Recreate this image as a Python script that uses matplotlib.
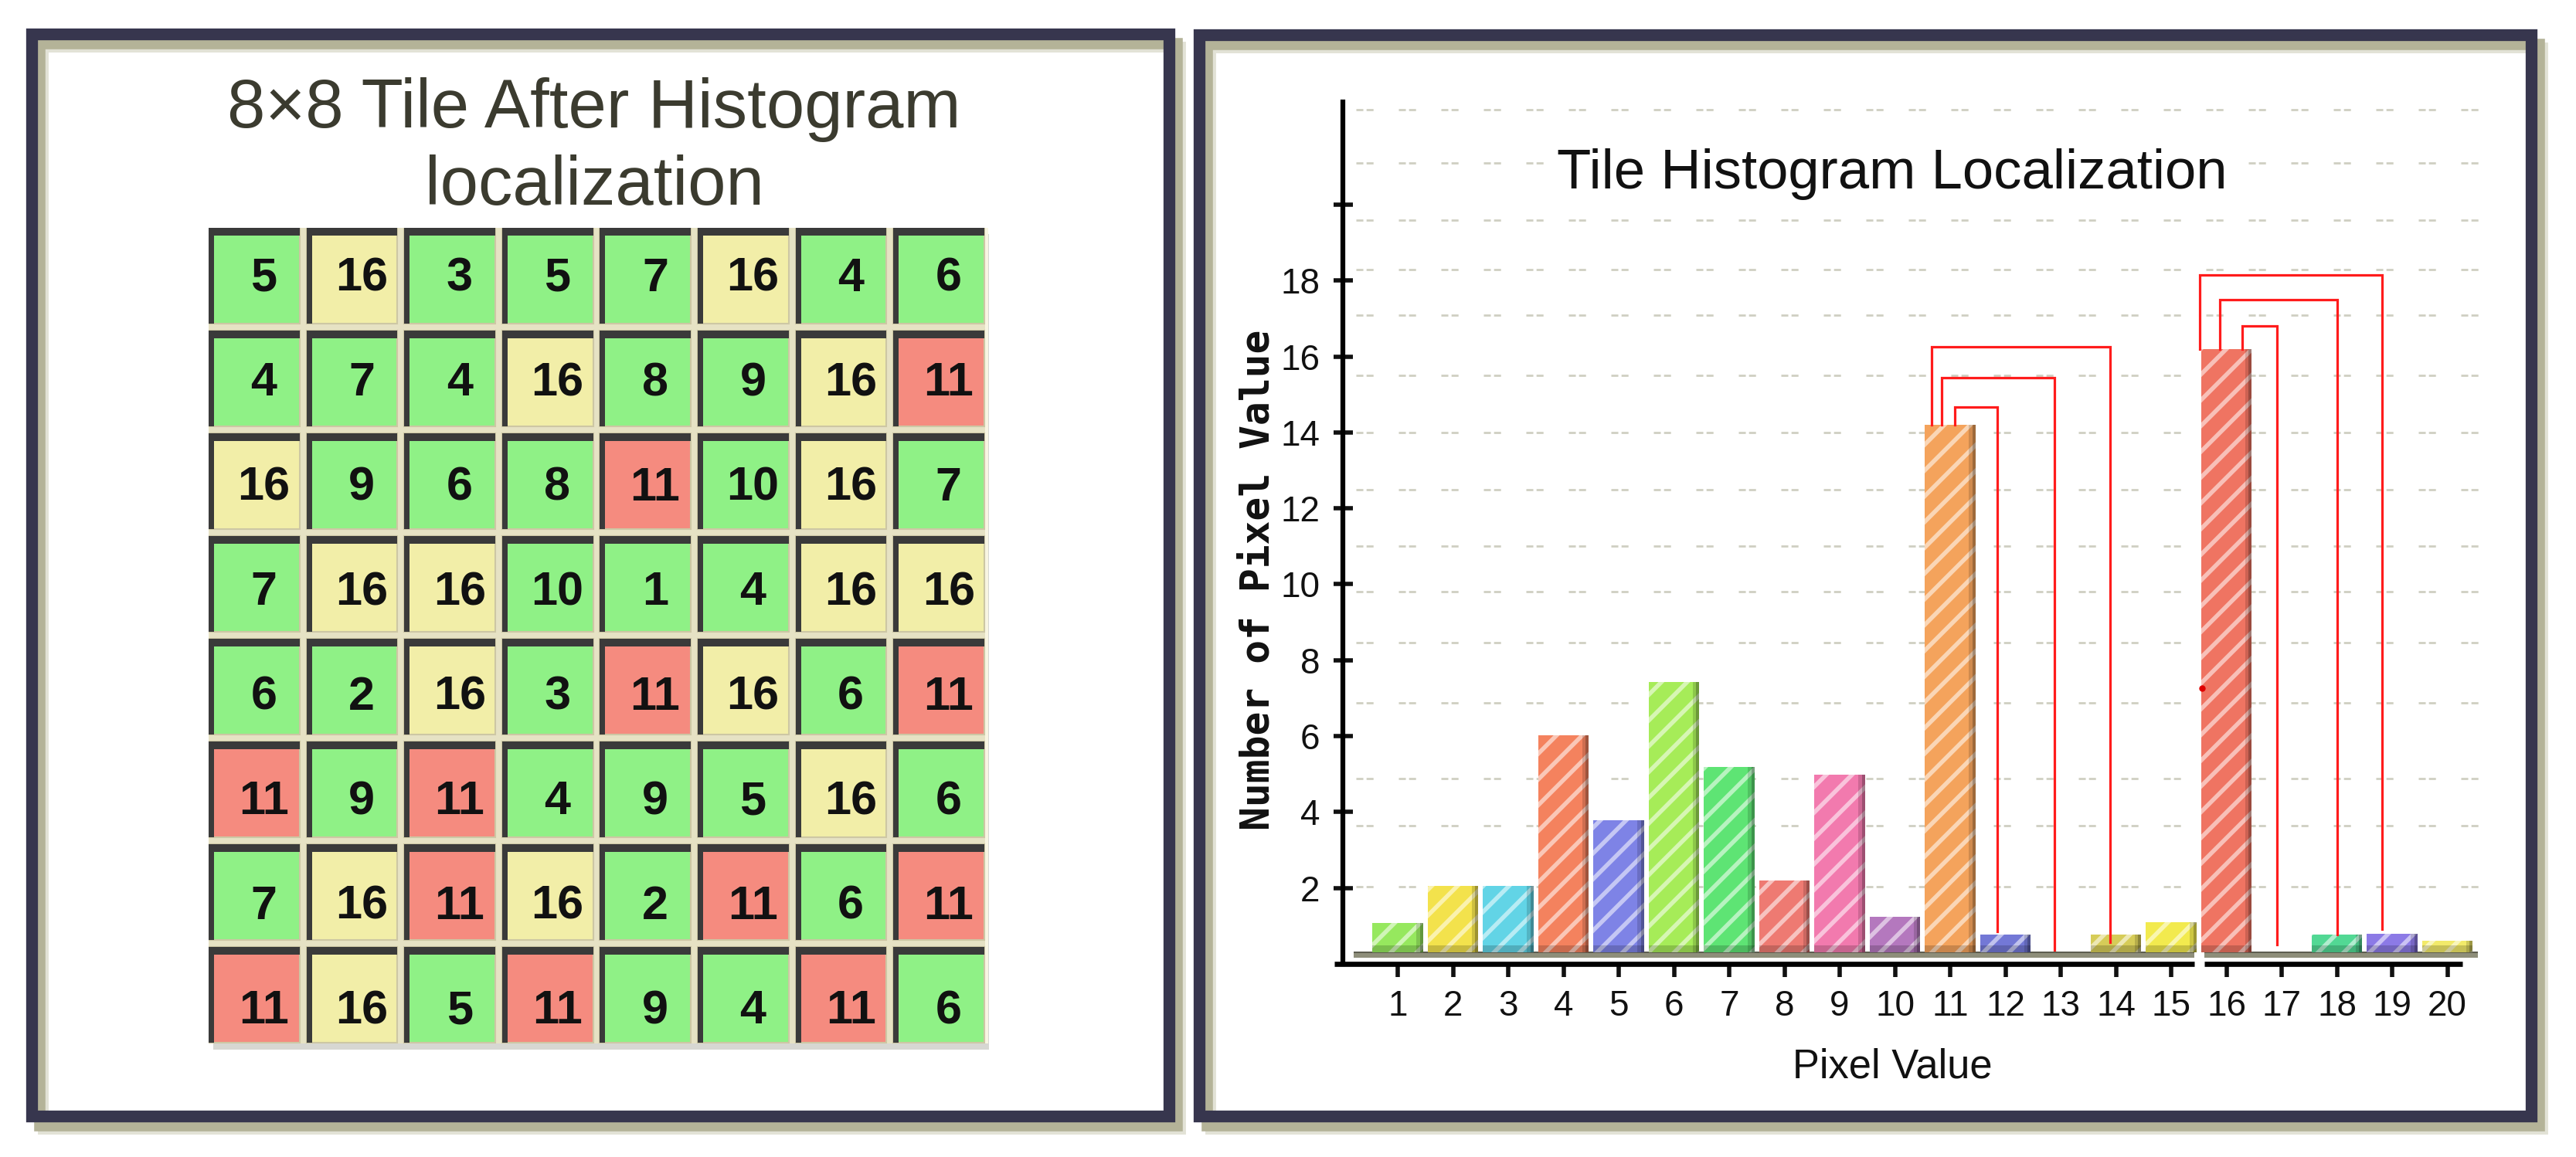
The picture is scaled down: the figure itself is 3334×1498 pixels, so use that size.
import matplotlib
matplotlib.use("Agg")
import matplotlib.pyplot as plt
import matplotlib.colors as mcolors
from matplotlib import font_manager as fm
from matplotlib.patches import Rectangle
import numpy as np

# 8x8 tile (left panel)
tile = [
    [5, 16, 3, 5, 7, 16, 4, 6],
    [4, 7, 4, 16, 8, 9, 16, 11],
    [16, 9, 6, 8, 11, 10, 16, 7],
    [7, 16, 16, 10, 1, 4, 16, 16],
    [6, 2, 16, 3, 11, 16, 6, 11],
    [11, 9, 11, 4, 9, 5, 16, 6],
    [7, 16, 11, 16, 2, 11, 6, 11],
    [11, 16, 5, 11, 9, 4, 11, 6],
]
cell_colors = {16: "#f2eea8", 11: "#f58b7f"}
cell_default = "#8ff186"

# histogram (right panel), heights
pixel_values = list(range(1, 21))
counts = [1.08, 2.06, 2.06, 6.03, 3.79, 7.42, 5.18, 2.2, 4.98, 1.25,
          14.2, 0.77, 0.12, 0.77, 1.09, 16.2, 0.1, 0.77, 0.8, 0.62]
bar_colors = ["#96e85e", "#f3e24c", "#62d4e6", "#f4825e", "#7e83e6",
              "#a6ec58", "#5ee474", "#ee7a72", "#f27aae", "#b478be",
              "#f4a35c", "#7378d6", "#c8c8b0", "#d6cc58", "#f2ea4e",
              "#ef7462", "#c8c8b8", "#52d894", "#8c7ae6", "#f2ea6a"]
y_ticks = [2, 4, 6, 8, 10, 12, 14, 16, 18, 20]
y_ticklabels = ["2", "4", "6", "8", "10", "12", "14", "16", "18", ""]

# red brackets: source bar -> target bar
link_from = [11, 11, 11, 16, 16, 16]
link_to = [12, 13, 14, 17, 18, 19]
link_top = [14.67, 15.45, 16.25, 16.8, 17.5, 18.15]
link_end = [0.85, 0.37, 0.57, 0.5, 0.77, 0.91]

# fonts --------------------------------------------------------------
plt.rcParams["lines.scale_dashes"] = False
plt.rcParams["hatch.linewidth"] = 4.0
installed = {f.name for f in fm.fontManager.ttflist}
if "Liberation Sans Narrow" in installed:
    NARROW, K = "Liberation Sans Narrow", 1.0
else:
    NARROW, K = "Liberation Sans", 0.9
SANS = "Liberation Sans"

W, H = 3334, 1498
fig = plt.figure(figsize=(W / 100, H / 100), dpi=100)
fig.patch.set_facecolor("white")

# background layer in pixels: panel frames + left title
bg = fig.add_axes([0, 0, 1, 1])
bg.set_xlim(0, W)
bg.set_ylim(H, 0)
bg.axis("off")


def frame(x0, y0, x1, y1):
    for dx, dy, col, lw in [(15, 17, "#e2e2d6", 10), (10, 12, "#b4b398", 10.5), (0, 0, "#37364e", 11)]:
        bg.add_patch(Rectangle((x0 + dx, y0 + dy), x1 - x0, y1 - y0, fill=False,
                               edgecolor=col, linewidth=lw, joinstyle="miter"))


frame(40.5, 44, 1513, 1445)
frame(1551.5, 45, 3276, 1445)

bg.text(769, 165, "8×8 Tile After Histogram", ha="center", va="baseline",
        fontsize=71 * K, family=NARROW, color="#3b3b2f")
bg.text(769, 265, "localization", ha="center", va="baseline",
        fontsize=71 * K, family=NARROW, color="#3b3b2f")

# left panel: tile grid ---------------------------------------------
ax_g = fig.add_axes([270 / W, 1 - 1359 / H, 8 * 126.6 / W, 8 * 133 / H])
ax_g.set_xlim(0, 8)
ax_g.set_ylim(8, 0)
ax_g.axis("off")
CW, CH = 0.931, 0.932
ax_g.add_patch(Rectangle((0.05, 0.06), 7.93, 7.95, facecolor="#8e8e80", alpha=0.35, lw=0))
ax_g.add_patch(Rectangle((-0.05, -0.06), 8.02, 8.0, facecolor="#f8f5e2", lw=0))
ax_g.add_patch(Rectangle((-0.01, -0.01), 7.95, 7.95, facecolor="#e6e2c4", lw=0))
for r, row in enumerate(tile):
    for c, v in enumerate(row):
        ax_g.add_patch(Rectangle((c, r), CW, CH, facecolor=cell_colors.get(v, cell_default),
                                 edgecolor="#cdc7a4", lw=1.5))
        ax_g.add_patch(Rectangle((c, r), CW, 0.075, facecolor="#3a3a3a", lw=0))
        ax_g.add_patch(Rectangle((c, r), 0.055, CH, facecolor="#3a3a3a", lw=0))
        ax_g.text(c + 0.565, r * 1.019 + 0.614, str(v), ha="center", va="baseline",
                  fontsize=44, family=SANS, weight="bold", color="#111111")

# right panel: histogram --------------------------------------------
ax = fig.add_axes([0.52115, 0.16689, 0.4418, 0.7481])
ax.set_xlim(0, 20.6)
ax.set_ylim(0, 22.8)
ax.patch.set_alpha(0)

grid_y = [2.03, 3.64, 4.88, 6.87, 8.47, 9.8, 11.0, 12.5, 14.0, 15.5, 17.1, 18.3, 19.6, 21.1, 22.5]
for gy in grid_y:
    ax.axhline(gy, xmin=0.012, xmax=0.998, color="#cfcfc2", lw=2.0,
               linestyle=(0, (6.5, 3, 6.5, 23.6)), zorder=1)

# floor under the bars
for fx0, fx1 in [(0.2, 15.42), (15.6, 20.55)]:
    ax.add_patch(Rectangle((fx0, 0.17), fx1 - fx0, 0.15, facecolor="#8e8e7a", lw=0, zorder=2))
    ax.add_patch(Rectangle((fx0, 0.29), fx1 - fx0, 0.04, facecolor="#5e5e50", lw=0, zorder=2))

x = np.array(pixel_values)
base = 0.3
heights = np.clip(np.array(counts) - base, 0, None)
hatch_cols = [tuple(0.45 * np.array(mcolors.to_rgb(c)) + 0.55) for c in bar_colors]
ax.bar(x, heights, width=0.92, bottom=base, color=bar_colors, edgecolor=hatch_cols,
       linewidth=0, hatch="/", zorder=3)
# 3-d shading on the right side and bottom of each bar
ax.bar(x + 0.43, heights, width=0.06, bottom=base, color="black", alpha=0.35, lw=0, zorder=4)
ax.bar(x + 0.37, heights, width=0.06, bottom=base, color="black", alpha=0.15, lw=0, zorder=4)
ax.bar(x, np.minimum(heights, 0.18), width=0.92, bottom=base, color="black", alpha=0.18, lw=0, zorder=4)

# brackets
left_dx = [0.09, -0.15, -0.34, 0.28, -0.12, -0.48]
right_dx = [-0.15, -0.11, -0.1, -0.08, 0.0, -0.18]
for s, t, top, end, dl, dr in zip(link_from, link_to, link_top, link_end, left_dx, right_dx):
    ax.plot([s + dl, s + dl, t + dr, t + dr], [counts[s - 1], top, top, end],
            color="#ff1c1c", lw=2.3, zorder=5, solid_joinstyle="miter")
ax.plot([15.56], [7.27], "o", color="#e00000", ms=5, zorder=5)

# axes lines
for spine in ["top", "right", "bottom"]:
    ax.spines[spine].set_visible(False)
ax.spines["left"].set_bounds(0, 22.7)
ax.spines["left"].set_linewidth(4.5)
for ax0, ax1 in [(-0.15, 15.42), (15.6, 20.27)]:
    ax.plot([ax0, ax1], [0, 0], color="black", lw=4.8, solid_capstyle="butt",
            clip_on=False, zorder=6)

ax.set_xticks(pixel_values)
ax.set_xticklabels([str(v) for v in pixel_values], family=SANS)
ax.set_yticks(y_ticks)
ax.set_yticklabels(y_ticklabels, family=SANS)
ax.tick_params(axis="x", direction="out", length=12, width=4, pad=12,
               labelsize=33, colors="#111111")
ax.tick_params(axis="y", direction="inout", length=18, width=4, pad=12,
               labelsize=33, colors="#111111")

ax.set_ylabel("Number of Pixel Value", family="DejaVu Sans Mono", weight="bold",
              fontsize=37, color="#111111")
ax.yaxis.set_label_coords(-0.0743, 0.4435)
ax.yaxis.label.set_verticalalignment("center")
ax.set_xlabel("Pixel Value", family=NARROW, fontsize=42 * K, color="#111111")
ax.xaxis.set_label_coords(0.4835, -0.132)
ax.xaxis.label.set_verticalalignment("baseline")

ax.text(0.483, 0.896, "Tile Histogram Localization", transform=ax.transAxes,
        ha="center", va="baseline", fontsize=58 * K, family=NARROW, color="#111111",
        bbox=dict(facecolor="white", edgecolor="none", pad=2), zorder=7)

fig.savefig("out.png", dpi=100, facecolor="white")
